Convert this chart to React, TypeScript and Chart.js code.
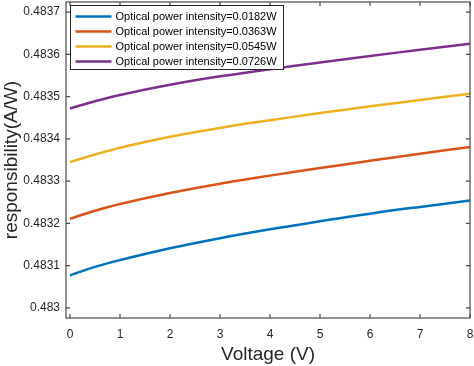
import React, { useEffect, useRef } from "react";
import { Chart, registerables } from "chart.js";

Chart.register(...registerables);

const VOLTAGE = [0, 0.5, 1, 2, 3, 4, 5, 6, 7, 8];
const SERIES_LABELS = [
  "Optical power intensity=0.0182W",
  "Optical power intensity=0.0363W",
  "Optical power intensity=0.0545W",
  "Optical power intensity=0.0726W",
];
const P0182 = [0.483077, 0.483097, 0.483113, 0.483141, 0.483165, 0.483186, 0.483205, 0.483223, 0.483239, 0.483254];
const P0363 = [0.483211, 0.48323, 0.483246, 0.483272, 0.483294, 0.483313, 0.483331, 0.483348, 0.483365, 0.483381];
const P0545 = [0.483345, 0.483363, 0.483379, 0.483405, 0.483426, 0.483444, 0.483461, 0.483477, 0.483492, 0.483507];
const P0726 = [0.483472, 0.483489, 0.483504, 0.483528, 0.483548, 0.483565, 0.483581, 0.483596, 0.483611, 0.483625];
const COLORS = ["#0072BD", "#D95319", "#EDB120", "#7E2F8E"];
const X_TICKS = [0, 1, 2, 3, 4, 5, 6, 7, 8];
const Y_TICKS = [0.483, 0.4831, 0.4832, 0.4833, 0.4834, 0.4835, 0.4836, 0.4837];
const Y_TICK_LABELS = ["0.483", "0.4831", "0.4832", "0.4833", "0.4834", "0.4835", "0.4836", "0.4837"];

const AXIS_COLOR = "#4a4a4a";
const TEXT_COLOR = "#262626";

const framePlugin = {
  id: "matlabFrame",
  afterDatasetsDraw(chart: any) {
    const { ctx, chartArea: a, scales } = chart;
    ctx.save();
    ctx.strokeStyle = AXIS_COLOR;
    ctx.lineWidth = 1.2;
    ctx.strokeRect(a.left, a.top, a.right - a.left, a.bottom - a.top);
    const tl = 4;
    ctx.beginPath();
    X_TICKS.forEach((v) => {
      const x = scales.x.getPixelForValue(v);
      ctx.moveTo(x, a.bottom);
      ctx.lineTo(x, a.bottom - tl);
      ctx.moveTo(x, a.top);
      ctx.lineTo(x, a.top + tl);
    });
    Y_TICKS.forEach((v) => {
      const y = scales.y.getPixelForValue(v);
      ctx.moveTo(a.left, y);
      ctx.lineTo(a.left + tl, y);
      ctx.moveTo(a.right, y);
      ctx.lineTo(a.right - tl, y);
    });
    ctx.stroke();

    // legend
    const lx = a.left + 4.5;
    const ly = 5.5;
    const lw = 213;
    const lh = 64;
    ctx.fillStyle = "#ffffff";
    ctx.fillRect(lx, ly, lw, lh);
    ctx.strokeStyle = "#262626";
    ctx.lineWidth = 1;
    ctx.strokeRect(lx, ly, lw, lh);
    ctx.font = "11px 'Liberation Sans', Arial, sans-serif";
    ctx.textBaseline = "middle";
    ctx.textAlign = "left";
    chart.data.datasets.forEach((ds: any, i: number) => {
      const yy = 16.5 + i * 15;
      ctx.strokeStyle = ds.borderColor;
      ctx.lineWidth = 2.5;
      ctx.beginPath();
      ctx.moveTo(lx + 5, yy);
      ctx.lineTo(lx + 41, yy);
      ctx.stroke();
      ctx.fillStyle = "#000000";
      ctx.fillText(ds.label, lx + 45, yy + 0.5);
    });
    ctx.restore();
  },
};

export default function App() {
  const ref = useRef<HTMLCanvasElement | null>(null);
  useEffect(() => {
    document.body.style.margin = "0";
    Chart.defaults.font.family = "'Liberation Sans', Arial, sans-serif";
    const series = [P0182, P0363, P0545, P0726];
    const chart = new Chart(ref.current!, {
      type: "line",
      data: {
        datasets: series.map((s, i) => ({
          label: SERIES_LABELS[i],
          data: VOLTAGE.map((v, j) => ({ x: v, y: s[j] })),
          borderColor: COLORS[i],
          backgroundColor: COLORS[i],
          borderWidth: 2.5,
          pointRadius: 0,
          tension: 0.4,
          fill: false,
        })),
      },
      options: {
        animation: false,
        responsive: false,
        maintainAspectRatio: false,
        layout: { padding: { top: 2, right: 4, left: 0, bottom: 0 } },
        plugins: { legend: { display: false }, tooltip: { enabled: false } },
        scales: {
          x: {
            type: "linear",
            min: -0.08,
            max: 8,
            grid: { display: false, drawTicks: false },
            border: { display: false },
            afterBuildTicks: (s: any) => {
              s.ticks = X_TICKS.map((v) => ({ value: v }));
            },
            afterFit: (s: any) => {
              s.height = 48;
              s.paddingLeft = 0;
              s.paddingRight = 0;
            },
            ticks: {
              color: TEXT_COLOR,
              font: { size: 12 },
              padding: 9,
              maxRotation: 0,
              autoSkip: false,
              callback: (v: any) => String(v),
            },
            title: {
              display: true,
              text: "Voltage (V)",
              color: TEXT_COLOR,
              font: { size: 19 },
              padding: { top: 0, bottom: 0 },
            },
          },
          y: {
            type: "linear",
            min: 0.482976,
            max: 0.483724,
            grid: { display: false, drawTicks: false },
            border: { display: false },
            afterBuildTicks: (s: any) => {
              s.ticks = Y_TICKS.map((v) => ({ value: v }));
            },
            afterFit: (s: any) => {
              s.width = 66;
              s.paddingTop = 0;
              s.paddingBottom = 0;
            },
            ticks: {
              color: TEXT_COLOR,
              font: { size: 12 },
              padding: 6,
              autoSkip: false,
              callback: (_v: any, idx: number) => Y_TICK_LABELS[idx],
            },
            title: {
              display: true,
              text: "responsibility(A/W)",
              color: TEXT_COLOR,
              font: { size: 19 },
              padding: { top: 0, bottom: 0 },
            },
          },
        },
      },
      plugins: [framePlugin],
    });
    return () => chart.destroy();
  }, []);
  return (
    <div style={{ width: 474, height: 366 }}>
      <canvas ref={ref} width={474} height={366} style={{ width: 474, height: 366, display: "block" }} />
    </div>
  );
}
